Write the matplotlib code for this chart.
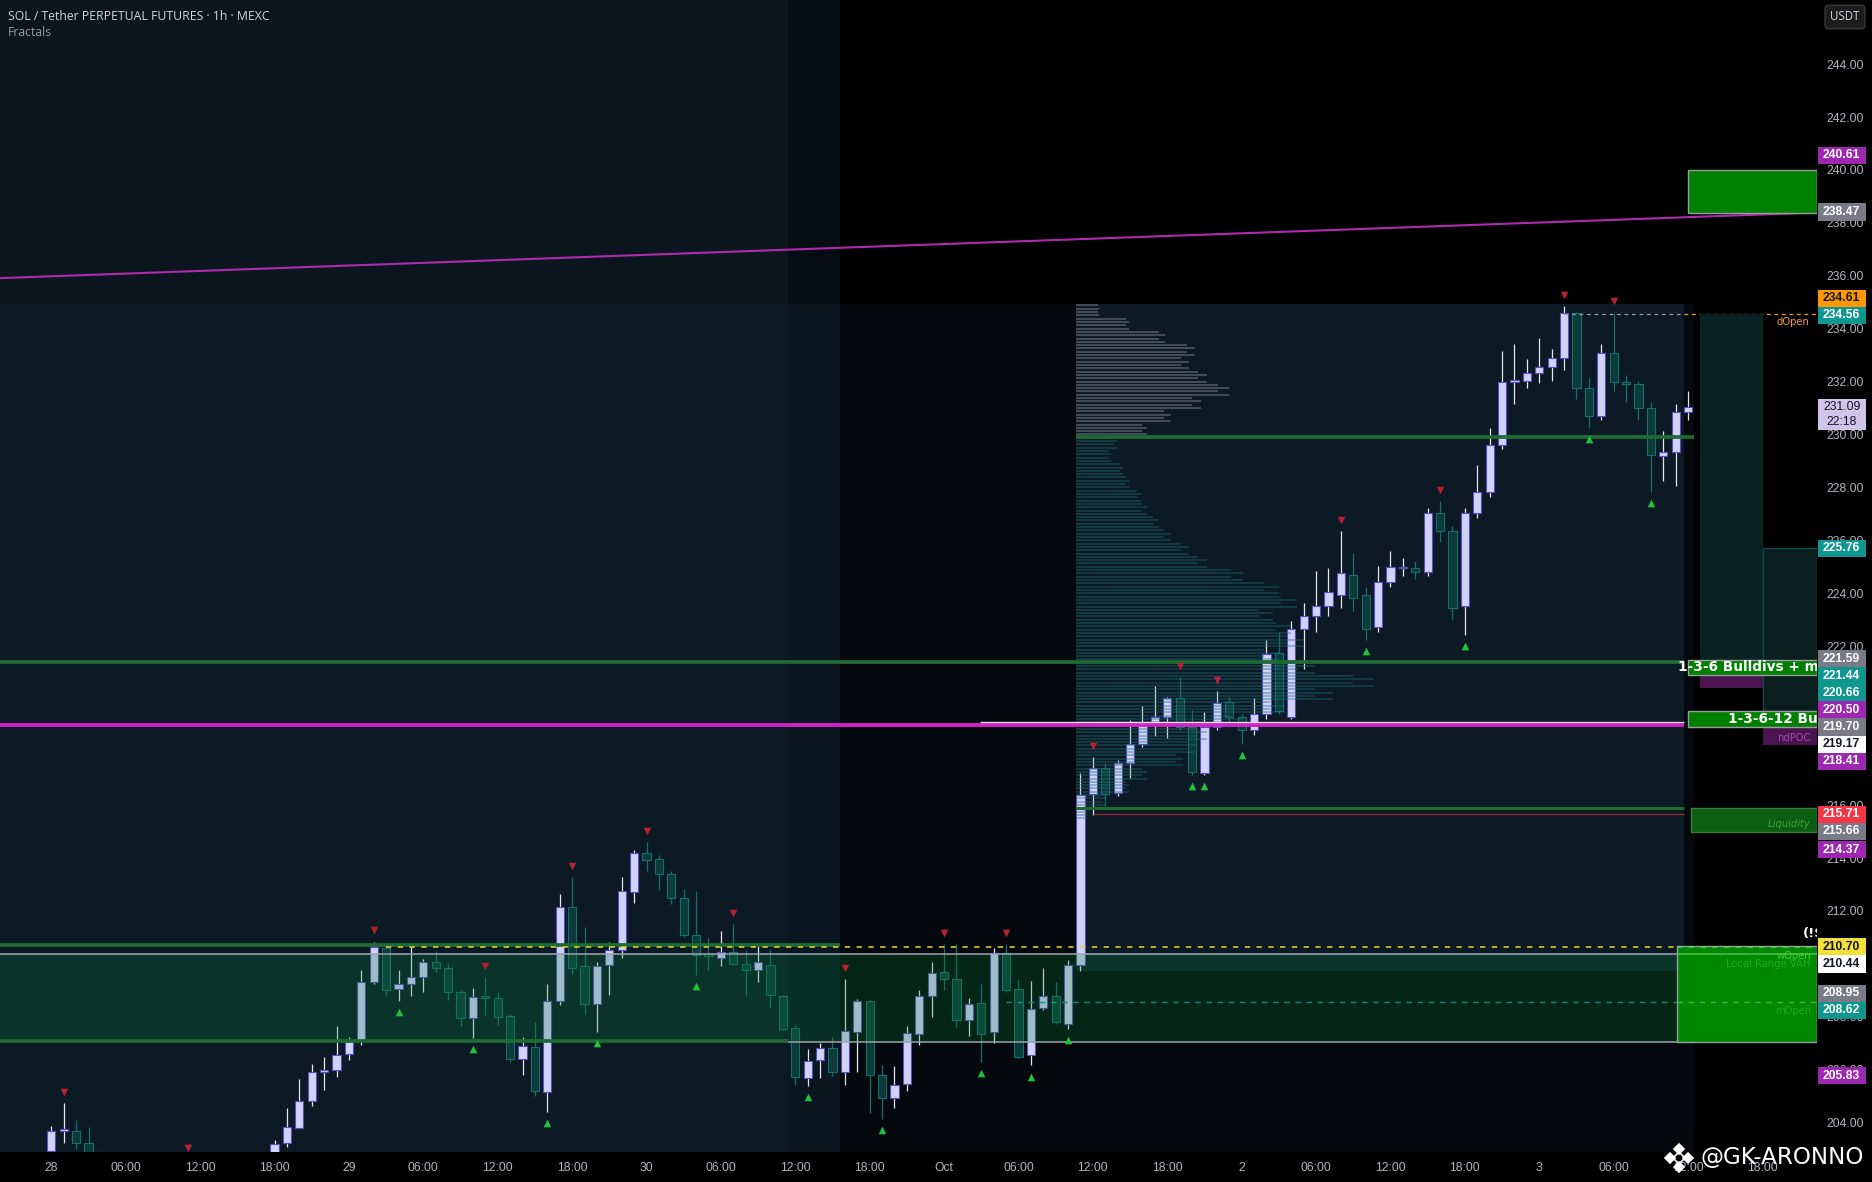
import matplotlib
matplotlib.use("Agg")
import matplotlib.pyplot as plt
from matplotlib.patches import Rectangle
from matplotlib import font_manager

# ---------------- data ----------------
opens = [203.00, 203.75, 203.75, 203.30, 202.60, 202.40, 202.00, 201.70, 201.90, 201.60,
         201.80, 202.20, 202.10, 201.60, 201.20, 201.40, 201.80, 202.20, 202.50, 203.28,
         203.87, 204.88, 205.99, 206.03, 206.64, 207.15, 209.37, 210.66, 209.11, 209.28,
         209.56, 210.13, 209.90, 209.00, 208.00, 208.79, 208.77, 208.09, 206.47, 206.92,
         205.22, 208.64, 212.20, 209.98, 208.53, 210.00, 210.60, 212.76, 214.26, 214.02,
         213.44, 212.55, 211.15, 210.38, 210.28, 210.50, 210.05, 209.83, 210.02, 208.85,
         207.63, 205.74, 206.41, 206.89, 205.96, 207.47, 208.66, 205.86, 204.98, 205.52,
         207.41, 208.85, 209.75, 209.49, 207.94, 208.58, 207.49, 210.47, 209.11, 206.60,
         208.39, 208.85, 207.79, 210.02, 216.48, 217.46, 216.51, 217.65, 218.37, 219.18,
         219.39, 220.10, 219.00, 217.27, 219.00, 219.96, 219.39, 218.90, 219.50, 221.80,
         219.40, 222.70, 223.20, 223.60, 224.00, 224.75, 224.00, 222.80, 224.50, 225.00,
         225.00, 224.85, 227.10, 226.40, 223.60, 227.10, 227.90, 229.66, 232.05, 232.10,
         232.40, 232.60, 232.95, 234.67, 231.80, 230.75, 233.13, 232.05, 231.96, 231.06,
         229.25, 229.40, 230.90]
highs = [203.95, 204.81, 204.17, 203.90, 203.00, 202.60, 202.30, 202.10, 202.20, 202.00,
         202.40, 202.70, 202.30, 201.90, 201.60, 202.00, 202.30, 202.60, 203.40, 204.60,
         205.72, 206.29, 206.55, 207.70, 207.30, 209.84, 210.90, 210.75, 209.84, 210.72,
         210.24, 210.56, 210.06, 209.08, 209.16, 209.57, 209.00, 208.17, 207.30, 207.87,
         209.31, 212.71, 213.35, 211.44, 210.14, 210.90, 213.35, 214.37, 214.65, 214.18,
         213.55, 212.90, 212.82, 211.04, 211.30, 211.56, 210.60, 210.72, 210.63, 208.90,
         207.80, 206.85, 207.07, 207.30, 209.50, 208.74, 208.70, 206.25, 206.20, 207.72,
         209.08, 210.14, 210.82, 210.82, 208.78, 209.31, 210.66, 210.82, 209.50, 209.42,
         209.92, 209.38, 210.22, 217.27, 217.86, 217.65, 217.77, 219.28, 219.81, 220.54,
         220.16, 220.88, 219.66, 219.56, 220.38, 220.16, 219.50, 220.10, 222.30, 222.60,
         223.00, 223.70, 224.90, 225.00, 226.40, 225.60, 224.30, 225.10, 225.65, 225.40,
         225.30, 227.30, 227.55, 226.60, 227.30, 228.90, 230.30, 233.20, 233.50, 232.90,
         233.70, 233.30, 234.90, 234.70, 232.20, 233.50, 234.67, 232.30, 232.10, 231.30,
         230.20, 231.20, 231.70]
lows = [202.70, 203.28, 203.07, 202.50, 202.20, 201.80, 201.50, 201.20, 201.40, 201.10,
        201.60, 201.90, 201.40, 200.90, 200.60, 201.10, 201.50, 201.90, 202.30, 203.13,
        203.84, 204.68, 205.30, 205.80, 206.41, 207.00, 209.30, 208.90, 208.67, 208.83,
        209.00, 209.74, 208.68, 207.70, 207.26, 208.14, 207.73, 206.34, 205.87, 205.05,
        204.45, 208.51, 209.68, 208.17, 207.50, 208.90, 210.27, 212.35, 213.55, 212.86,
        212.32, 211.07, 209.63, 209.82, 209.96, 210.00, 208.83, 209.36, 208.38, 207.55,
        205.47, 205.43, 205.73, 205.81, 205.50, 205.96, 204.42, 204.20, 204.63, 205.24,
        207.00, 208.04, 209.08, 207.68, 207.32, 206.34, 207.07, 209.00, 206.50, 206.22,
        208.30, 207.79, 207.60, 209.78, 215.70, 216.03, 216.40, 217.08, 218.24, 218.68,
        218.61, 218.90, 217.20, 217.20, 218.90, 219.18, 218.36, 218.70, 219.30, 219.50,
        219.30, 221.20, 222.60, 223.20, 223.50, 223.40, 222.30, 222.60, 224.30, 224.70,
        224.60, 224.70, 226.00, 223.10, 222.50, 226.90, 227.70, 229.50, 231.20, 231.80,
        232.00, 232.10, 232.50, 231.40, 230.30, 230.60, 231.70, 231.30, 230.60, 227.90,
        228.30, 228.10, 230.60]
closes = [203.74, 203.78, 203.28, 202.60, 202.40, 202.00, 201.70, 201.90, 201.60, 201.80,
          202.20, 202.10, 201.60, 201.20, 201.40, 201.80, 202.20, 202.50, 203.26, 203.90,
          204.88, 205.97, 206.02, 206.62, 207.20, 209.37, 210.70, 209.06, 209.31, 209.56,
          210.13, 209.89, 208.98, 208.00, 208.81, 208.77, 208.04, 206.47, 206.96, 205.24,
          208.64, 212.20, 209.89, 208.53, 209.98, 210.60, 212.80, 214.26, 214.00, 213.44,
          212.55, 211.15, 210.40, 210.36, 210.50, 210.05, 209.83, 210.13, 208.87, 207.58,
          205.77, 206.39, 206.89, 205.96, 207.52, 208.66, 205.85, 204.98, 205.48, 207.43,
          208.85, 209.71, 209.49, 207.94, 208.55, 207.41, 210.47, 209.07, 206.54, 208.35,
          208.85, 207.85, 210.02, 216.44, 217.46, 216.48, 217.65, 218.37, 219.20, 219.39,
          220.10, 219.00, 217.29, 219.00, 219.91, 219.37, 218.88, 219.50, 221.77, 219.60,
          222.70, 223.20, 223.60, 224.10, 224.84, 223.90, 222.70, 224.50, 225.06, 225.05,
          224.85, 227.10, 226.40, 223.50, 227.10, 227.90, 229.66, 232.05, 232.10, 232.40,
          232.60, 232.95, 234.67, 231.80, 230.75, 233.13, 232.05, 231.96, 231.06, 229.30,
          229.40, 230.90, 231.09]

fractal_high_idx = [1, 11, 26, 35, 42, 48, 55, 64, 72, 77, 84, 91, 94, 104, 112, 122, 126]
fractal_low_idx = [28, 34, 40, 44, 52, 61, 67, 75, 79, 82, 92, 93, 96, 106, 114, 124, 129]

# volume profile (price row, relative volume)
profile_prices = [234.75, 234.25, 233.75, 233.25, 232.75, 232.25, 231.75, 231.25, 230.75, 230.25,
                  229.75, 229.25, 228.75, 228.25, 227.75, 227.25, 226.75, 226.25, 225.75, 225.25,
                  224.75, 224.25, 223.75, 223.25, 222.75, 222.25, 221.75, 221.25, 220.75, 220.25,
                  219.75, 219.25, 218.75, 218.25, 217.75, 217.25, 216.75, 216.25, 215.75]
profile_volume = [20, 45, 75, 100, 95, 110, 128, 105, 80, 60,
                  35, 30, 40, 45, 55, 60, 70, 80, 95, 110,
                  140, 170, 185, 165, 180, 190, 170, 200, 250, 215,
                  175, 140, 110, 100, 90, 60, 45, 25, 10]
profile_value_area_top = 230.0

day_names = ['28', '29', '30', 'Oct', '2', '3']

# price-scale labels: (value, background, text colour)
price_labels = [
    (240.61, '#9c27b0', 'white'), (238.47, '#787b86', 'white'),
    (234.61, '#ff9800', '#131722'), (234.56, '#0f968f', 'white'),
    (225.76, '#0f968f', 'white'), (221.59, '#787b86', 'white'),
    (221.44, '#0f968f', 'white'), (220.66, '#0f968f', 'white'),
    (220.50, '#9c27b0', 'white'), (219.70, '#787b86', 'white'),
    (219.17, '#ffffff', '#131722'), (218.41, '#9c27b0', 'white'),
    (215.71, '#f23645', 'white'), (215.66, '#787b86', 'white'),
    (214.37, '#9c27b0', 'white'), (210.70, '#f3e03b', '#131722'),
    (210.44, '#ffffff', '#131722'), (208.95, '#787b86', 'white'),
    (208.62, '#0f968f', 'white'), (205.83, '#9c27b0', 'white'),
]
pinned_labels = [234.56]
last_price = 231.09
countdown = '22:18'

# key levels
lvl_range_high = 210.78
lvl_range_low = 207.13
lvl_vah = 210.42
lvl_range_low2 = 207.10
lvl_wopen = 210.68
lvl_mopen = 208.60
lvl_green_221 = 221.46
lvl_green_230 = 229.98
lvl_green_216 = 215.96
lvl_red_216 = 215.72
lvl_magenta = 219.10
lvl_white_219 = 219.20
lvl_dopen = 234.60
trend_start, trend_end = 235.97, 238.45

# ---------------- figure ----------------
W, H = 1872, 1182
AX_R, AX_B = 1817, 1152
fig = plt.figure(figsize=(W / 100, H / 100), dpi=100, facecolor='black')
ax = fig.add_axes([0, 1 - AX_B / H, AX_R / W, AX_B / H])
ax.set_facecolor('black')
XMIN, XMAX = -4.14, 142.4
YMIN, YMAX = 202.95, 246.48
ax.set_xlim(XMIN, XMAX)
ax.set_ylim(YMIN, YMAX)
for s in ax.spines.values():
    s.set_visible(False)

avail = {f.name for f in font_manager.fontManager.ttflist}
if 'Liberation Sans Narrow' in avail:
    AXFAM, AXSZ, WMFAM, WMSZ = 'Liberation Sans Narrow', 10.5, 'Liberation Sans Narrow', 20.5
else:
    AXFAM, AXSZ, WMFAM, WMSZ = 'Liberation Sans', 8.7, 'DejaVu Sans', 16.6

# session / zone backgrounds
S1, S2, S3, S4, S5 = 59.4, 63.6, 82.6, 131.7, 132.5
TOP_ZONE = 235.0
bgs = [
    (XMIN, S1, TOP_ZONE, YMAX, '#0a151e'),
    (S1, S2, TOP_ZONE, YMAX, '#060c12'),
    (XMIN, S1, YMIN, TOP_ZONE, '#0c1a26'),
    (S1, S2, YMIN, TOP_ZONE, '#0a1620'),
    (S2, S5, YMIN, TOP_ZONE, '#05090d'),
    (S3, S4, 209.78, TOP_ZONE, '#0c1a26'),
]
for x0, x1, y0, y1, c in bgs:
    ax.add_patch(Rectangle((x0, y0), x1 - x0, y1 - y0, fc=c, ec='none', zorder=0.5))

# candles
BW = 0.66
for i, (o, h, l, c) in enumerate(zip(opens, highs, lows, closes)):
    bull = c >= o
    wick = '#e4e4ee' if bull else '#17706e'
    fc = '#d0d3f5' if bull else '#0d3a3b'
    ec = '#5a4ec4' if bull else '#14706d'
    ax.plot([i, i], [l, h], color=wick, lw=0.9, zorder=3, solid_capstyle='butt')
    lo, hi = min(o, c), max(o, c)
    ax.add_patch(Rectangle((i - BW / 2, lo), BW, max(hi - lo, 0.07), fc=fc, ec=ec,
                           lw=0.8, zorder=3.1))

# volume profile
vmax = max(profile_volume)
PW = 24.1
for p, v in zip(profile_prices, profile_volume):
    gray = p > profile_value_area_top
    col = '#7a7d88' if gray else '#1f7073'
    a = 0.55 if gray else 0.40
    for k in range(4):
        yy = p - 0.25 + 0.0625 + k * 0.125
        ax.plot([S3, S3 + PW * v / vmax * (1 - 0.07 * (k % 2))], [yy, yy], color=col,
                alpha=a, lw=1.3, zorder=3.5, solid_capstyle='butt')

# green local range band
ax.add_patch(Rectangle((XMIN, lvl_range_low2), S4 - XMIN, lvl_vah - lvl_range_low2,
                       fc=(8 / 255, 128 / 255, 50 / 255), alpha=0.25, ec='none', zorder=4))

# level lines
def hline(y, x0, x1, **kw):
    ax.plot([x0, x1], [y, y], solid_capstyle='butt', **kw)

BOX_X = 131.1
hline(lvl_range_high, XMIN, S2, color='#1f6b34', lw=2.7, zorder=4.5)
hline(lvl_range_low, XMIN, S1, color='#1f6b34', lw=2.7, zorder=4.5)
hline(lvl_green_221, XMIN, S4, color='#1f6b34', lw=2.7, zorder=4.5)
hline(lvl_green_230, S3, S5, color='#1f6b34', lw=2.7, zorder=4.5)
hline(lvl_green_216, S3, S4, color='#1f6b34', lw=2.2, zorder=4.5)
hline(lvl_red_216, 84, S4, color='#8c2a2e', lw=1.0, zorder=4.5)
hline(lvl_vah, XMIN, BOX_X, color='#a0a2aa', lw=1.1, zorder=4.6)
hline(lvl_range_low2, S1, BOX_X, color='#a0a2aa', lw=1.1, zorder=4.6)
ax.plot([27, BOX_X], [lvl_wopen] * 2, color='#e5d92a', lw=1.1, ls=(0, (3.5, 4.2)), zorder=4.7)
ax.plot([77, BOX_X], [lvl_mopen] * 2, color='#1a8a80', lw=1.0, ls=(0, (4, 4)), zorder=4.7)
hline(lvl_magenta, XMIN, S4, color='#d321c9', lw=2.8, zorder=4.6)
hline(lvl_white_219, 74.9, S4, color='#d8d8d8', lw=1.0, zorder=4.6)
ax.plot([XMIN, XMAX], [trend_start, trend_end], color='#b02ab0', lw=1.5, zorder=4.6)
ax.plot([122, S4], [lvl_dopen] * 2, color='#9a9ca4', lw=0.9, ls=(0, (3, 3)), zorder=4.6)
ax.plot([S4, XMAX], [lvl_dopen] * 2, color='#f0a020', lw=0.9, ls=(0, (3, 3)), zorder=4.6)

# fractal arrows
ax.scatter(fractal_high_idx, [highs[i] + 0.42 for i in fractal_high_idx], marker='v',
           s=30, color='#b8222e', zorder=5, linewidths=0)
ax.scatter(fractal_low_idx, [lows[i] - 0.42 for i in fractal_low_idx], marker='^',
           s=30, color='#22c23a', zorder=5, linewidths=0)

# right-side boxes
def box(x0, x1, y0, y1, fc, ec='none', lw=1.0, z=6, alpha=1.0):
    ax.add_patch(Rectangle((x0, y0), x1 - x0, y1 - y0, fc=fc, ec=ec, lw=lw, zorder=z, alpha=alpha))

BA0, BA1 = 133.0, 138.05
box(132.0, XMAX, 238.44, 240.06, '#008000', '#9a9ca4')
box(BA0, BA1, 220.97, lvl_dopen, '#0a2222')
box(BA1, XMAX, 219.62, 225.76, '#0a1e1e', '#0d4a4a')
box(BA0, BA1, 220.48, 220.97, '#4a1450')
box(BA1, XMAX, 218.33, 219.0, '#4a1450')
box(132.0, XMAX, 220.97, 221.55, '#008000', '#9a9ca4')
box(132.0, XMAX, 219.0, 219.62, '#008000', '#9a9ca4')
box(132.2, XMAX, 215.06, 215.96, '#0b5e12', '#3a7a3a')
box(BOX_X, XMAX, 207.12, 210.73, '#008800', '#9a9ca4')
# lines drawn through the bottom-right box
ax.plot([BOX_X, XMAX], [lvl_wopen] * 2, color='#5fd05f', lw=1.1, ls=(0, (3.5, 4.2)), zorder=6.5)
hline(lvl_vah, BOX_X, XMAX, color='#4cc04c', lw=1.1, zorder=6.5)
ax.plot([BOX_X, XMAX], [lvl_mopen] * 2, color='#3cb83c', lw=1.0, ls=(0, (4, 4)), zorder=6.5)

def t(x, y, s, **kw):
    kw.setdefault('zorder', 7)
    tx = ax.text(x, y, s, **kw)
    tx.set_clip_on(True)
    return tx

t(131.2, 221.26, '1-3-6 Bulldivs + m', color='white', fontsize=9.8, fontweight='bold',
  va='center', ha='left', family='DejaVu Sans')
t(135.2, 219.31, '1-3-6-12 Bu', color='white', fontsize=9.8, fontweight='bold',
  va='center', ha='left', family='DejaVu Sans')
t(141.9, 218.6, 'ndPOC', color='#a050a8', fontsize=7.2, va='center', ha='right')
t(141.9, 215.35, 'Liquidity', color='#3aa03a', fontsize=7.2, style='italic', va='center', ha='right')
t(141.9, 210.36, 'wOpen', color='#3ccf3c', fontsize=7.2, va='center', ha='right')
t(141.9, 210.07, 'Local Range VAH', color='#1db01d', fontsize=7.2, va='center', ha='right')
t(141.9, 208.27, 'mOpen', color='#1db01d', fontsize=7.2, va='center', ha='right')
t(141.3, 211.2, '(!S', color='white', fontsize=9.5, fontweight='bold', va='center', ha='left')
t(141.8, 234.3, 'dOpen', color='#f0a020', fontsize=7.2, va='center', ha='right')

# x axis
ticks = list(range(0, 139, 6))
labels = [day_names[h // 24] if h % 24 == 0 else f"{h % 24:02d}:00" for h in ticks]
ax.set_xticks(ticks)
ax.set_xticklabels(labels, color='#b2b5be', fontsize=AXSZ, family=AXFAM)
ax.tick_params(axis='x', length=0, pad=7.5)
ax.set_yticks([])

# price axis
ax2 = fig.add_axes([AX_R / W, 1 - AX_B / H, (W - AX_R) / W, AX_B / H])
ax2.set_facecolor('black')
ax2.set_xlim(0, W - AX_R)
ax2.set_ylim(YMIN, YMAX)
ax2.axis('off')
for v in range(204, 246, 2):
    ax2.text(28.5, v, f"{v:.2f}", color='#b2b5be', fontsize=AXSZ, family=AXFAM,
             ha='center', va='center', zorder=1)

LH = 0.645
pinned = [p for p in price_labels if p[0] in pinned_labels]
others = sorted([p for p in price_labels if p[0] not in pinned_labels], key=lambda r: -r[0])
positions = {p[0]: p[0] for p in pinned}
prev = None
for val, _, _ in others:
    pos = val
    if prev is not None and prev - pos < LH:
        pos = prev - LH
    for pv in pinned_labels:
        if abs(pos - pv) < LH:
            pos = pv + LH if val >= pv else pv - LH
    positions[val] = pos
    prev = pos

for val, bg, fg in price_labels:
    pos = positions[val]
    ax2.add_patch(Rectangle((0.5, pos - LH / 2), 48.5, LH, fc=bg, ec='none', zorder=3))
    ax2.text(24.7, pos, f"{val:.2f}", color=fg, fontsize=AXSZ, family=AXFAM,
             fontweight='bold', ha='center', va='center', zorder=4)

# last price with countdown
ax2.add_patch(Rectangle((0.5, last_price - 0.85), 48.5, 1.17, fc='#d1c4e9', ec='none', zorder=3))
ax2.text(24.7, last_price, f"{last_price:.2f}", color='#131722', fontsize=AXSZ, family=AXFAM,
         ha='center', va='center', zorder=4)
ax2.text(24.7, last_price - 0.55, countdown, color='#131722', fontsize=AXSZ, family=AXFAM,
         ha='center', va='center', zorder=4)

# titles
fig.text(8 / W, 1 - 16 / H, 'SOL / Tether PERPETUAL FUTURES \u00b7 1h \u00b7 MEXC', color='#d1d4dc',
         fontsize=8.8, family='Open Sans', va='center', ha='left')
fig.text(8 / W, 1 - 33 / H, 'Fractals', color='#9598a1', fontsize=8.8, family='Open Sans',
         va='center', ha='left')

# currency box
fig.text(1845 / W, 1 - 17 / H, 'USDT', color='#d1d4dc', fontsize=8.3, family='Open Sans',
         ha='center', va='center',
         bbox=dict(boxstyle='round,pad=0.45,rounding_size=0.3', fc='#1c1c1c', ec='#3a3a3a', lw=1))

# watermark
fig.text(1700 / W, 1 - 1158 / H, '@GK-ARONNO', color='white', fontsize=WMSZ, family=WMFAM,
         ha='left', va='center', zorder=10)
cx, cy = 1679, 1158
for dx, dy, s in [(0, 0, 22), (0, -9, 14), (0, 9, 14), (-9, 0, 14), (9, 0, 14)]:
    fig.add_artist(plt.Line2D([(cx + dx) / W], [1 - (cy + dy) / H], marker='D', markersize=s ** 0.5 * 1.3,
                              color='white', mfc='none' if s == 22 else 'white', mew=1.2,
                              transform=fig.transFigure))

fig.savefig('out.png', dpi=100, facecolor='black')
